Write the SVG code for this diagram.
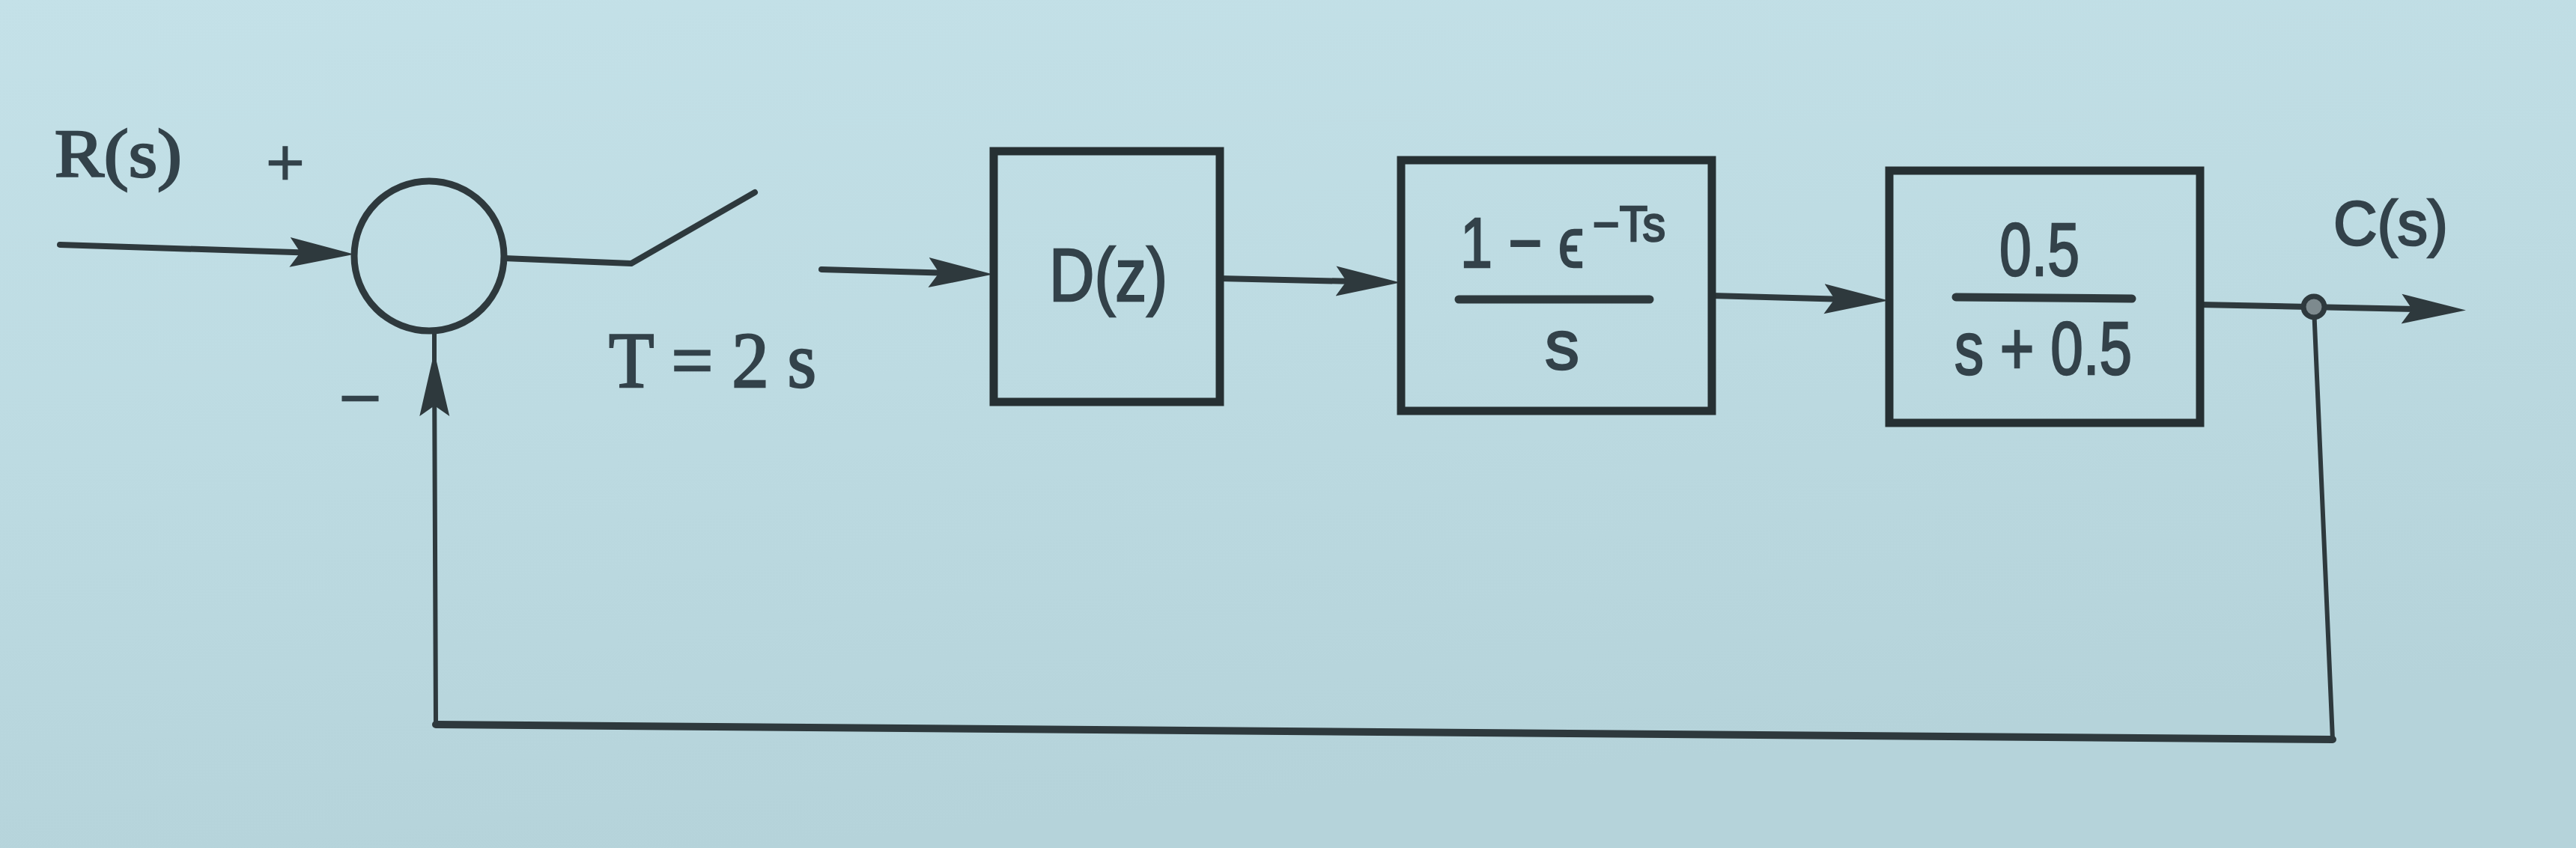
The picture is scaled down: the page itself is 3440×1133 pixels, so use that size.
<svg xmlns="http://www.w3.org/2000/svg" width="3440" height="1133" viewBox="0 0 3440 1133">
  <defs>
    <linearGradient id="bg" x1="0" y1="0" x2="0.3" y2="1">
      <stop offset="0" stop-color="#c4e1e8"/>
      <stop offset="0.5" stop-color="#bddbe2"/>
      <stop offset="1" stop-color="#b5d3da"/>
    </linearGradient>
    <marker id="arr" markerUnits="userSpaceOnUse" markerWidth="90" markerHeight="46" refX="66" refY="22" orient="auto" viewBox="0 0 90 46">
      <path d="M0,2 L86,22 L0,42 L14,22 Z" fill="#2e393d"/>
    </marker>
    <style>
      .ln { fill: none; stroke: #2e393d; stroke-width: 8; stroke-linecap: round; stroke-linejoin: round; }
      .thin { stroke-width: 6; }
      .box { fill: none; stroke: #263033; stroke-width: 11; }
      .bar { stroke: #2e393d; stroke-width: 11; stroke-linecap: round; }
      .serif { font-family: "Liberation Serif", "DejaVu Serif", serif; fill: #33424a; stroke: #33424a; stroke-width: 2.5; }
      .sans { font-family: "Liberation Sans", "DejaVu Sans", sans-serif; fill: #33424a; stroke: #33424a; stroke-width: 2.5; }
    </style>
  </defs>
  <rect width="3440" height="1133" fill="url(#bg)"/>

  <g id="connectors">
    <path class="ln" d="M80,327 L453,339" marker-end="url(#arr)"/>
    <path class="ln" d="M673,345 L843,352 L1008,257"/>
    <path class="ln" d="M1097,360 L1306,366" marker-end="url(#arr)"/>
    <path class="ln" d="M1629,372 L1850,377" marker-end="url(#arr)"/>
    <path class="ln" d="M2286,395 L2502,401" marker-end="url(#arr)"/>
    <path class="ln" d="M2938,407 L3273,414" marker-end="url(#arr)"/>
    <path class="ln thin" d="M3090,410 L3115,988"/>
    <path class="ln" d="M3115,988 L582,968" style="stroke-width:10"/>
    <path class="ln thin" d="M582,968 L580,490" marker-end="url(#arr)"/>
    <path class="ln thin" d="M580,490 L580,443"/>
    <circle id="junction" cx="3090" cy="410" r="14" fill="#7d8a8e" stroke="#2e393d" stroke-width="7"/>
  </g>

  <g id="sum">
    <circle cx="573" cy="342" r="100" fill="none" stroke="#2e393d" stroke-width="9"/>
    <text class="serif" x="381" y="248" font-size="90" text-anchor="middle">+</text>
    <text class="serif" x="481" y="566" font-size="100" text-anchor="middle">−</text>
  </g>

  <g id="input-label">
    <text class="serif" x="73" y="236" font-size="90" textLength="170" lengthAdjust="spacingAndGlyphs">R(s)</text>
  </g>

  <g id="sampler-label">
    <text class="serif" x="813" y="517" font-size="105" textLength="277" lengthAdjust="spacingAndGlyphs">T = 2 s</text>
  </g>

  <g id="controller">
    <rect class="box" x="1327" y="202" width="302" height="335"/>
    <text class="sans" x="1401" y="402" font-size="100" textLength="158" lengthAdjust="spacingAndGlyphs">D(z)</text>
  </g>

  <g id="zoh">
    <rect class="box" x="1871" y="214" width="415" height="335"/>
    <text class="sans" x="1950" y="357" font-size="95"><tspan textLength="165" lengthAdjust="spacingAndGlyphs">1 − ϵ</tspan><tspan x="2127" y="322" font-size="66" textLength="97" lengthAdjust="spacingAndGlyphs">−Ts</tspan></text>
    <line class="bar" x1="1948" y1="400" x2="2203" y2="400"/>
    <text class="sans" x="2086" y="493" font-size="92" text-anchor="middle">s</text>
  </g>

  <g id="plant">
    <rect class="box" x="2523" y="228" width="415" height="337"/>
    <text class="sans" x="2670" y="368" font-size="100" textLength="107" lengthAdjust="spacingAndGlyphs">0.5</text>
    <line class="bar" x1="2612" y1="397" x2="2847" y2="399"/>
    <text class="sans" x="2610" y="500" font-size="100" textLength="237" lengthAdjust="spacingAndGlyphs">s + 0.5</text>
  </g>

  <g id="output-label">
    <text class="sans" x="3116" y="327" font-size="84" textLength="153" lengthAdjust="spacingAndGlyphs">C(s)</text>
  </g>
</svg>
